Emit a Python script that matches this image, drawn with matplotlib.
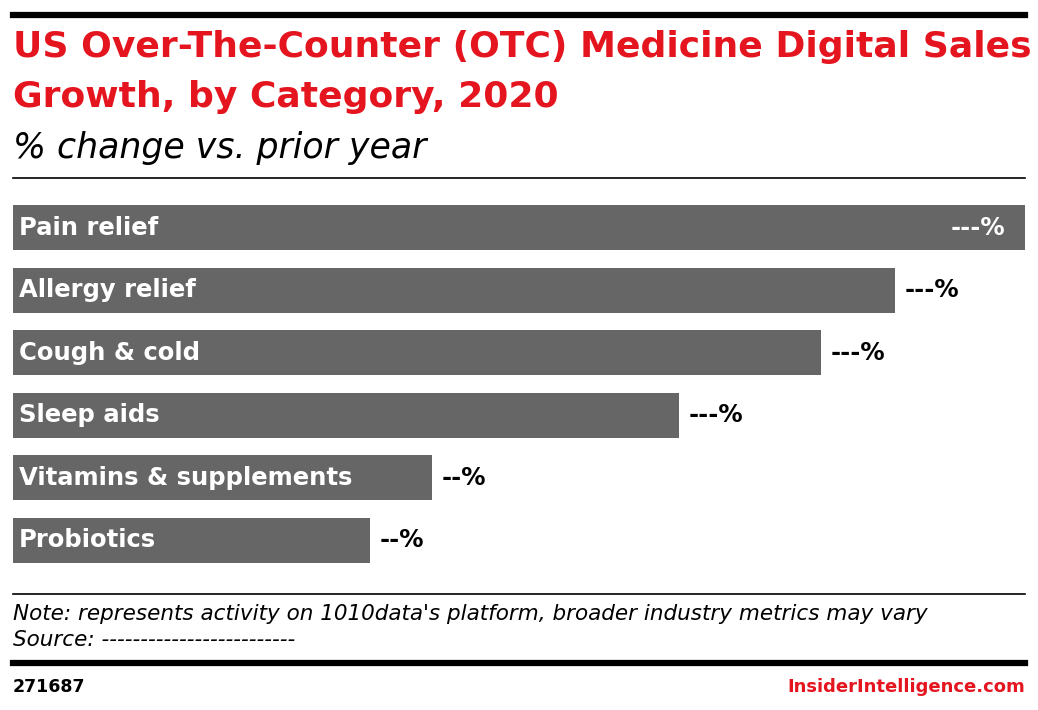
import matplotlib.pyplot as plt
from matplotlib.lines import Line2D

plt.rcParams['font.family'] = ['DejaVu Sans']

categories = ['Pain relief', 'Allergy relief', 'Cough & cold', 'Sleep aids',
              'Vitamins & supplements', 'Probiotics']
values = [1012, 882, 808, 666, 419, 357]
value_labels = ['---%', '---%', '---%', '---%', '--%', '--%']

W, H = 1038, 710
fig = plt.figure(figsize=(W / 100, H / 100), dpi=100)


def fy(px):
    return 1 - px / H


def hline(y, lw):
    fig.add_artist(Line2D([13 / W, 1025 / W], [fy(y), fy(y)], color='black', lw=lw))


hline(15, 4.5)
hline(178, 1.2)
hline(594, 1.2)
hline(663, 4.5)

red = '#e4151f'
fig.text(13 / W, fy(47), 'US Over-The-Counter (OTC) Medicine Digital Sales',
         color=red, fontsize=26, fontweight='bold', va='center')
fig.text(13 / W, fy(97), 'Growth, by Category, 2020',
         color=red, fontsize=26, fontweight='bold', va='center')
fig.text(13 / W, fy(148), '% change vs. prior year',
         fontsize=25, style='italic', va='center')

ax = fig.add_axes([13 / W, fy(563), 1012 / W, (563 - 205) / H])
y = list(range(len(categories)))
ax.barh(y, values, height=0.72, color='#666666')
ax.set_xlim(0, 1012)
ax.set_ylim(len(categories) - 0.5 - 0.14, -0.5 + 0.14)
ax.axis('off')
for i, (c, v, lab) in enumerate(zip(categories, values, value_labels)):
    ax.text(6, i, c, color='white', fontsize=17.5, fontweight='bold', va='center')
    if v > 950:
        ax.text(v - 20, i, lab, color='white', fontsize=17.5, fontweight='bold',
                va='center', ha='right')
    else:
        ax.text(v + 10, i, lab, color='black', fontsize=17.5, fontweight='bold',
                va='center')

fig.text(13 / W, fy(614), "Note: represents activity on 1010data's platform, broader industry metrics may vary",
         fontsize=15.5, style='italic', va='center')
fig.text(13 / W, fy(640), 'Source: -------------------------',
         fontsize=15.5, style='italic', va='center')
fig.text(13 / W, fy(687), '271687', fontsize=12.5, fontweight='bold', va='center')
fig.text(1025 / W, fy(687), 'InsiderIntelligence.com', fontsize=13,
         fontweight='bold', color=red, va='center', ha='right')

fig.savefig('out.png', dpi=100)
